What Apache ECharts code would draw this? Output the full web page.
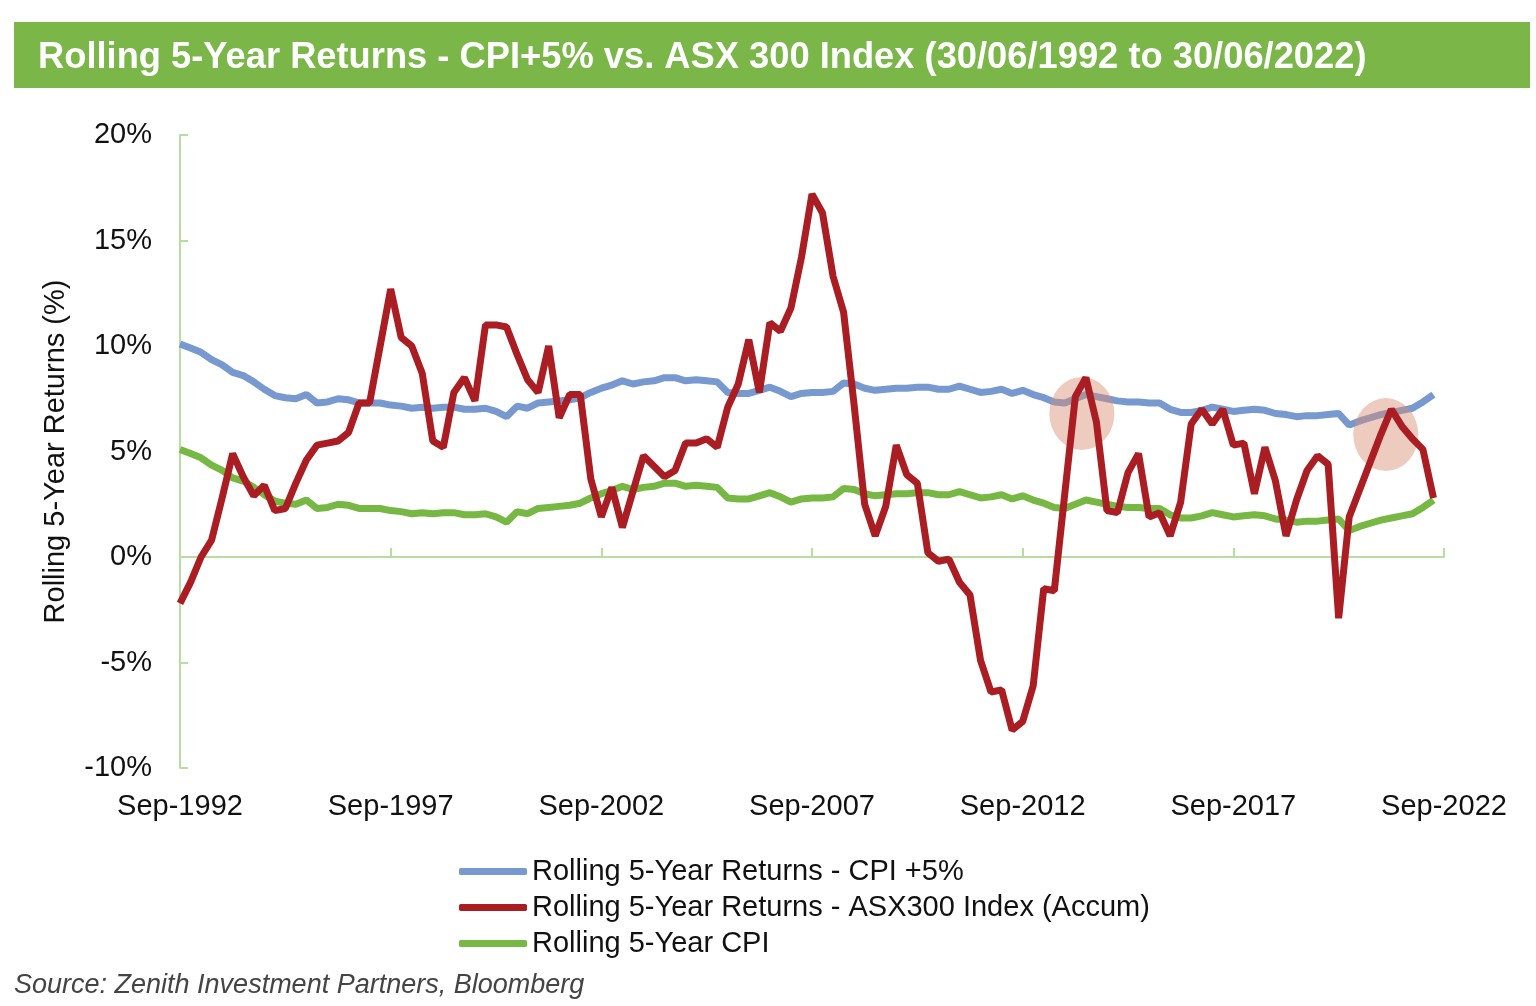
<!DOCTYPE html>
<html>
<head>
<meta charset="utf-8">
<title>Rolling 5-Year Returns</title>
<script src="https://cdn.jsdelivr.net/npm/echarts/dist/echarts.min.js"></script>
<style>
  html, body { margin: 0; padding: 0; background: #fff; }
  #chart { width: 1536px; height: 1006px; }
</style>
</head>
<body>
<div id="chart"></div>
<script>
// quarterly points, Sep-1992 .. Jun-2022 (last category Sep-2022 is just the end tick)
const months = ['Mar', 'Jun', 'Sep', 'Dec'];
const quarters = [];
for (let i = 0; i <= 120; i++) {
    const q = 2 + i;
    quarters.push(months[q % 4] + '-' + (1992 + Math.floor(q / 4)));
}

const cpiPlus5 = [
    10.1, 9.9, 9.7, 9.35, 9.1, 8.75, 8.6, 8.3, 7.95, 7.65,
    7.55, 7.5, 7.7, 7.3, 7.35, 7.5, 7.45, 7.3, 7.3, 7.3,
    7.2, 7.15, 7.05, 7.1, 7.05, 7.1, 7.1, 7.0, 7.0, 7.05,
    6.9, 6.65, 7.15, 7.05, 7.3, 7.35, 7.4, 7.45, 7.55, 7.8,
    8.0, 8.15, 8.35, 8.2, 8.3, 8.35, 8.5, 8.5, 8.35, 8.4,
    8.35, 8.3, 7.8, 7.75, 7.75, 7.9, 8.05, 7.85, 7.6, 7.75,
    7.8, 7.8, 7.85, 8.25, 8.2, 8.0, 7.9, 7.95, 8.0, 8.0,
    8.05, 8.05, 7.95, 7.95, 8.1, 7.95, 7.8, 7.85, 7.95, 7.75,
    7.9, 7.7, 7.55, 7.35, 7.3, 7.5, 7.7, 7.6, 7.5, 7.4,
    7.35, 7.35, 7.3, 7.3, 7.0, 6.85, 6.85, 6.95, 7.1, 7.0,
    6.9, 6.95, 7.0, 6.95, 6.8, 6.75, 6.65, 6.7, 6.7, 6.75,
    6.8, 6.25, 6.45, 6.6, 6.75, 6.85, 6.95, 7.05, 7.35, 7.7
];

const asx300 = [
    -2.2, -1.2, 0.0, 0.8, 2.8, 4.9, 3.8, 2.9, 3.4, 2.2,
    2.3, 3.5, 4.6, 5.3, 5.4, 5.5, 5.9, 7.3, 7.3, 10.0,
    12.7, 10.4, 10.0, 8.7, 5.5, 5.2, 7.8, 8.5, 7.4, 11.0,
    11.0, 10.9, 9.6, 8.4, 7.8, 10.0, 6.6, 7.7, 7.7, 3.7,
    1.9, 3.3, 1.4, 3.1, 4.8, 4.3, 3.8, 4.1, 5.4, 5.4,
    5.6, 5.2, 7.1, 8.2, 10.3, 7.8, 11.1, 10.7, 11.8, 14.2,
    17.2, 16.3, 13.3, 11.6, 7.2, 2.5, 1.0, 2.4, 5.3, 3.9,
    3.5, 0.2, -0.2, -0.1, -1.2, -1.8, -4.9, -6.4, -6.3, -8.2,
    -7.8, -6.1, -1.5, -1.6, 3.0, 7.6, 8.5, 6.4, 2.2, 2.1,
    4.0, 4.9, 1.9, 2.1, 1.0, 2.6, 6.3, 7.0, 6.3, 7.0,
    5.3, 5.4, 3.0, 5.2, 3.6, 1.0, 2.7, 4.1, 4.8, 4.4,
    -2.9, 1.9, 3.2, 4.5, 5.8, 7.0, 6.2, 5.6, 5.1, 2.8
];

const cpi = [
    5.1, 4.9, 4.7, 4.35, 4.1, 3.75, 3.6, 3.3, 2.95, 2.65,
    2.55, 2.5, 2.7, 2.3, 2.35, 2.5, 2.45, 2.3, 2.3, 2.3,
    2.2, 2.15, 2.05, 2.1, 2.05, 2.1, 2.1, 2.0, 2.0, 2.05,
    1.9, 1.65, 2.15, 2.05, 2.3, 2.35, 2.4, 2.45, 2.55, 2.8,
    3.0, 3.15, 3.35, 3.2, 3.3, 3.35, 3.5, 3.5, 3.35, 3.4,
    3.35, 3.3, 2.8, 2.75, 2.75, 2.9, 3.05, 2.85, 2.6, 2.75,
    2.8, 2.8, 2.85, 3.25, 3.2, 3.0, 2.9, 2.95, 3.0, 3.0,
    3.05, 3.05, 2.95, 2.95, 3.1, 2.95, 2.8, 2.85, 2.95, 2.75,
    2.9, 2.7, 2.55, 2.35, 2.3, 2.5, 2.7, 2.6, 2.5, 2.4,
    2.35, 2.35, 2.3, 2.3, 2.0, 1.85, 1.85, 1.95, 2.1, 2.0,
    1.9, 1.95, 2.0, 1.95, 1.8, 1.75, 1.65, 1.7, 1.7, 1.75,
    1.8, 1.25, 1.45, 1.6, 1.75, 1.85, 1.95, 2.05, 2.35, 2.7
];

const seriesNames = [
    'Rolling 5-Year Returns - CPI +5%',
    'Rolling 5-Year Returns - ASX300 Index (Accum)',
    'Rolling 5-Year CPI'
];

// highlighted spots: [quarter, value]
const highlights = [['Mar-2014', 6.8], ['Mar-2021', 5.8]];

const font = 'Liberation Sans, Arial, Helvetica, sans-serif';
const axisGreen = '#b9dca0';

const chart = echarts.init(document.getElementById('chart'));
chart.setOption({
    animation: false,
    backgroundColor: '#fff',
    graphic: [
        { type: 'rect', left: 14, top: 22, shape: { width: 1516, height: 66 }, style: { fill: '#7ab648' }, z: 0 }
    ],
    title: [
        {
            text: 'Rolling 5-Year Returns - CPI+5% vs. ASX 300 Index (30/06/1992 to 30/06/2022)',
            left: 38, top: 40, padding: 0,
            textStyle: { color: '#fff', fontSize: 36.3, fontWeight: 'bold', fontFamily: font }
        },
        {
            text: 'Source: Zenith Investment Partners, Bloomberg',
            left: 14, top: 972, padding: 0,
            textStyle: { color: '#444', fontSize: 27, fontStyle: 'italic', fontWeight: 'normal', fontFamily: font }
        }
    ],
    legend: {
        orient: 'vertical',
        left: 459, top: 857,
        icon: 'roundRect',
        itemWidth: 68, itemHeight: 7, itemGap: 7,
        padding: 0,
        textStyle: { color: '#111', fontSize: 29, fontFamily: font },
        data: seriesNames
    },
    grid: { left: 180, right: 92, top: 135, bottom: 238, containLabel: false, outerBoundsMode: 'none' },
    xAxis: [
        {
            type: 'category',
            data: quarters,
            boundaryGap: false,
            position: 'bottom',
            axisLine: { show: false, onZero: false },
            axisTick: { show: false },
            splitLine: { show: false },
            axisLabel: { interval: 19, margin: 24, color: '#111', fontSize: 29, fontFamily: font }
        },
        {
            type: 'category',
            data: quarters,
            boundaryGap: false,
            position: 'top',
            axisLine: { show: true, onZero: true, lineStyle: { color: axisGreen, width: 2 } },
            axisTick: { show: true, interval: 19, length: 9, inside: false, lineStyle: { color: axisGreen, width: 2 } },
            axisLabel: { show: false },
            splitLine: { show: false }
        }
    ],
    yAxis: {
        type: 'value',
        min: -10, max: 20, interval: 5,
        name: 'Rolling 5-Year Returns (%)',
        nameLocation: 'middle',
        nameGap: 110,
        nameTextStyle: { color: '#111', fontSize: 29, fontFamily: font },
        axisLine: { show: true, lineStyle: { color: axisGreen, width: 2 } },
        axisTick: { show: true, inside: true, length: 8, lineStyle: { color: axisGreen, width: 2 } },
        splitLine: { show: false },
        axisLabel: { formatter: '{value}%', margin: 28, color: '#111', fontSize: 29, fontFamily: font }
    },
    series: [
        {
            name: seriesNames[0],
            type: 'line',
            data: cpiPlus5,
            showSymbol: false, symbol: 'none',
            z: 2,
            lineStyle: { color: '#7899cf', width: 7 },
            itemStyle: { color: '#7899cf' },
            markPoint: {
                z: 3,
                symbol: 'circle',
                symbolSize: [65, 73],
                silent: true,
                label: { show: false },
                itemStyle: { color: 'rgba(214,140,110,0.45)' },
                data: [
                    { coord: highlights[0], symbolOffset: [-4, 0] },
                    { coord: highlights[1], symbolOffset: [5, 0] }
                ]
            }
        },
        {
            name: seriesNames[1],
            type: 'line',
            data: asx300,
            showSymbol: false, symbol: 'none',
            z: 4,
            lineStyle: { color: '#a91d23', width: 7 },
            itemStyle: { color: '#a91d23' }
        },
        {
            name: seriesNames[2],
            type: 'line',
            data: cpi,
            showSymbol: false, symbol: 'none',
            z: 2,
            lineStyle: { color: '#76b843', width: 7 },
            itemStyle: { color: '#76b843' }
        }
    ]
});
</script>
</body>
</html>
